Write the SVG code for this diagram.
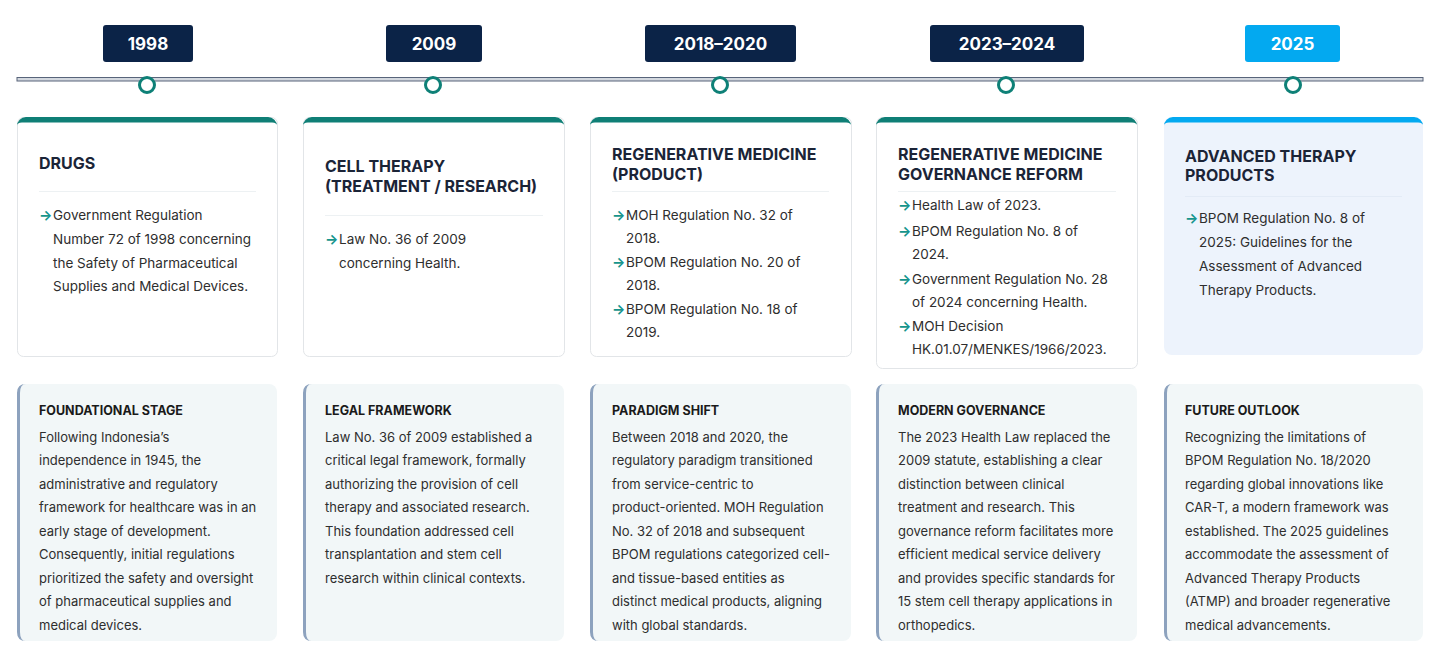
<svg xmlns="http://www.w3.org/2000/svg" width="1438" height="650" viewBox="0 0 1438 650">
<style>
.yr{font-family:Inter,"Liberation Sans",sans-serif;font-weight:700;font-size:17px;fill:#fff;text-anchor:middle}
.ybox{fill:#0B2347}
.dot{fill:#fff;stroke:#0E8077;stroke-width:3}
.card{fill:#fff;stroke:#E2E5E8;stroke-width:1}
.bar{fill:#0F7F76}
.ttl{font-family:Inter,"Liberation Sans",sans-serif;font-weight:700;font-size:16px;fill:#1B2437}
.div{stroke:#EDF1F3;stroke-width:1}
.txt{font-family:Inter,"Liberation Sans",sans-serif;font-size:13.5px;fill:#2e2e2e}
.arr{font-family:Inter,"DejaVu Sans",sans-serif;font-size:14px;font-weight:700;fill:#16958C}
.bcard{fill:#F2F7F8}
.lb{fill:#8DA2BE}
.bt{font-family:Inter,"Liberation Sans",sans-serif;font-weight:700;font-size:12.5px;fill:#1a1a1a}
.bx{font-family:Inter,"Liberation Sans",sans-serif;font-size:13px;fill:#2e2e2e}
</style>
<rect width="1438" height="650" fill="#fff"/>
<g id="timeline">
<rect x="17" y="77.5" width="1406" height="3.5" fill="#D3D8DF" stroke="#58647A" stroke-width="1"/>
</g>
<g id="connectors">
<circle class="dot" cx="147" cy="85" r="7.5"/>
<circle class="dot" cx="433" cy="85" r="7.5"/>
<circle class="dot" cx="720" cy="85" r="7.5"/>
<circle class="dot" cx="1006" cy="85" r="7.5"/>
<circle class="dot" cx="1293" cy="85" r="7.5"/>
</g>
<g id="year-1998"><rect class="ybox" x="103" y="25" width="90" height="37" rx="3"/><text class="yr" x="148" y="50">1998</text></g>
<g id="year-2009"><rect class="ybox" x="386" y="25" width="96" height="37" rx="3"/><text class="yr" x="434" y="50">2009</text></g>
<g id="year-2018"><rect class="ybox" x="645" y="25" width="151" height="37" rx="3"/><text class="yr" x="720.5" y="50">2018–2020</text></g>
<g id="year-2023"><rect class="ybox" x="930" y="25" width="154" height="37" rx="3"/><text class="yr" x="1007" y="50">2023–2024</text></g>
<g id="year-2025"><rect x="1245" y="25" width="95" height="37" rx="3" fill="#03A9F0"/><text class="yr" x="1292.5" y="50">2025</text></g>

<g id="card-drugs">
<rect class="card" x="17.5" y="117.5" width="260" height="239" rx="6"/>
<path class="bar" d="M17,126 A9,9 0 0 1 26,117 H268 A9,9 0 0 1 277,126 Q277,122.5 272,122.5 H22 Q17,122.5 17,126 Z"/>
<text class="ttl" x="39" y="169">DRUGS</text>
<line class="div" x1="39" y1="191.5" x2="256" y2="191.5"/>
<text class="arr" x="39" y="220">→</text>
<text class="txt" x="53" y="220">Government Regulation</text>
<text class="txt" x="53" y="244">Number 72 of 1998 concerning</text>
<text class="txt" x="53" y="268">the Safety of Pharmaceutical</text>
<text class="txt" x="53" y="291">Supplies and Medical Devices.</text>
</g>

<g id="card-cell">
<rect class="card" x="303.5" y="117.5" width="261" height="239" rx="6"/>
<path class="bar" d="M303,126 A9,9 0 0 1 312,117 H555 A9,9 0 0 1 564,126 Q564,122.5 559,122.5 H308 Q303,122.5 303,126 Z"/>
<text class="ttl" x="325" y="172">CELL THERAPY</text>
<text class="ttl" x="325" y="192">(TREATMENT / RESEARCH)</text>
<line class="div" x1="325" y1="215.5" x2="543" y2="215.5"/>
<text class="arr" x="325" y="244">→</text>
<text class="txt" x="339" y="244">Law No. 36 of 2009</text>
<text class="txt" x="339" y="268">concerning Health.</text>
</g>

<g id="card-regen">
<rect class="card" x="590.5" y="117.5" width="261" height="239" rx="6"/>
<path class="bar" d="M590,126 A9,9 0 0 1 599,117 H842 A9,9 0 0 1 851,126 Q851,122.5 846,122.5 H595 Q590,122.5 590,126 Z"/>
<text class="ttl" x="612" y="160">REGENERATIVE MEDICINE</text>
<text class="ttl" x="612" y="180">(PRODUCT)</text>
<line class="div" x1="612" y1="191.5" x2="829" y2="191.5"/>
<text class="arr" x="612" y="220">→</text>
<text class="txt" x="626" y="220">MOH Regulation No. 32 of</text>
<text class="txt" x="626" y="243">2018.</text>
<text class="arr" x="612" y="267">→</text>
<text class="txt" x="626" y="267">BPOM Regulation No. 20 of</text>
<text class="txt" x="626" y="290">2018.</text>
<text class="arr" x="612" y="314">→</text>
<text class="txt" x="626" y="314">BPOM Regulation No. 18 of</text>
<text class="txt" x="626" y="337">2019.</text>
</g>

<g id="card-gov">
<rect class="card" x="876.5" y="117.5" width="261" height="251" rx="6"/>
<path class="bar" d="M876,126 A9,9 0 0 1 885,117 H1128 A9,9 0 0 1 1137,126 Q1137,122.5 1132,122.5 H881 Q876,122.5 876,126 Z"/>
<text class="ttl" x="898" y="160">REGENERATIVE MEDICINE</text>
<text class="ttl" x="898" y="180">GOVERNANCE REFORM</text>
<line class="div" x1="898" y1="191.5" x2="1116" y2="191.5"/>
<text class="arr" x="898" y="210">→</text>
<text class="txt" x="912" y="210">Health Law of 2023.</text>
<text class="arr" x="898" y="236">→</text>
<text class="txt" x="912" y="236">BPOM Regulation No. 8 of</text>
<text class="txt" x="912" y="259">2024.</text>
<text class="arr" x="898" y="284">→</text>
<text class="txt" x="912" y="284">Government Regulation No. 28</text>
<text class="txt" x="912" y="307">of 2024 concerning Health.</text>
<text class="arr" x="898" y="331">→</text>
<text class="txt" x="912" y="331">MOH Decision</text>
<text class="txt" x="912" y="354">HK.01.07/MENKES/1966/2023.</text>
</g>

<g id="card-atp">
<rect x="1164" y="117" width="259" height="238" rx="8" fill="#EDF3FC"/>
<path d="M1164,126 A9,9 0 0 1 1173,117 H1414 A9,9 0 0 1 1423,126 Q1423,122.5 1418,122.5 H1169 Q1164,122.5 1164,126 Z" fill="#03A9F0"/>
<text class="ttl" x="1185" y="162">ADVANCED THERAPY</text>
<text class="ttl" x="1185" y="181">PRODUCTS</text>
<line x1="1185" y1="196.5" x2="1402" y2="196.5" stroke="#E3EBF6" stroke-width="1"/>
<text class="arr" x="1185" y="223">→</text>
<text class="txt" x="1199" y="223">BPOM Regulation No. 8 of</text>
<text class="txt" x="1199" y="247">2025: Guidelines for the</text>
<text class="txt" x="1199" y="271">Assessment of Advanced</text>
<text class="txt" x="1199" y="295">Therapy Products.</text>
</g>

<g id="note-foundational">
<rect class="bcard" x="17" y="384" width="260" height="257" rx="8"/>
<path class="lb" d="M26,384 Q17,384 17,393 V632 Q17,641 26,641 Q20,641 20,632 V393 Q20,384 26,384 Z"/>
<text class="bt" x="39" y="415">FOUNDATIONAL STAGE</text>
<text class="bx" x="39" y="442">Following Indonesia’s</text>
<text class="bx" x="39" y="465">independence in 1945, the</text>
<text class="bx" x="39" y="489">administrative and regulatory</text>
<text class="bx" x="39" y="512">framework for healthcare was in an</text>
<text class="bx" x="39" y="536">early stage of development.</text>
<text class="bx" x="39" y="559">Consequently, initial regulations</text>
<text class="bx" x="39" y="583">prioritized the safety and oversight</text>
<text class="bx" x="39" y="606">of pharmaceutical supplies and</text>
<text class="bx" x="39" y="630">medical devices.</text>
</g>

<g id="note-legal">
<rect class="bcard" x="303" y="384" width="261" height="257" rx="8"/>
<path class="lb" d="M312,384 Q303,384 303,393 V632 Q303,641 312,641 Q306,641 306,632 V393 Q306,384 312,384 Z"/>
<text class="bt" x="325" y="415">LEGAL FRAMEWORK</text>
<text class="bx" x="325" y="442">Law No. 36 of 2009 established a</text>
<text class="bx" x="325" y="465">critical legal framework, formally</text>
<text class="bx" x="325" y="489">authorizing the provision of cell</text>
<text class="bx" x="325" y="512">therapy and associated research.</text>
<text class="bx" x="325" y="536">This foundation addressed cell</text>
<text class="bx" x="325" y="559">transplantation and stem cell</text>
<text class="bx" x="325" y="583">research within clinical contexts.</text>
</g>

<g id="note-paradigm">
<rect class="bcard" x="590" y="384" width="261" height="257" rx="8"/>
<path class="lb" d="M599,384 Q590,384 590,393 V632 Q590,641 599,641 Q593,641 593,632 V393 Q593,384 599,384 Z"/>
<text class="bt" x="612" y="415">PARADIGM SHIFT</text>
<text class="bx" x="612" y="442">Between 2018 and 2020, the</text>
<text class="bx" x="612" y="465">regulatory paradigm transitioned</text>
<text class="bx" x="612" y="489">from service-centric to</text>
<text class="bx" x="612" y="512">product-oriented. MOH Regulation</text>
<text class="bx" x="612" y="536">No. 32 of 2018 and subsequent</text>
<text class="bx" x="612" y="559">BPOM regulations categorized cell-</text>
<text class="bx" x="612" y="583">and tissue-based entities as</text>
<text class="bx" x="612" y="606">distinct medical products, aligning</text>
<text class="bx" x="612" y="630">with global standards.</text>
</g>

<g id="note-modern">
<rect class="bcard" x="876" y="384" width="261" height="257" rx="8"/>
<path class="lb" d="M885,384 Q876,384 876,393 V632 Q876,641 885,641 Q879,641 879,632 V393 Q879,384 885,384 Z"/>
<text class="bt" x="898" y="415">MODERN GOVERNANCE</text>
<text class="bx" x="898" y="442">The 2023 Health Law replaced the</text>
<text class="bx" x="898" y="465">2009 statute, establishing a clear</text>
<text class="bx" x="898" y="489">distinction between clinical</text>
<text class="bx" x="898" y="512">treatment and research. This</text>
<text class="bx" x="898" y="536">governance reform facilitates more</text>
<text class="bx" x="898" y="559">efficient medical service delivery</text>
<text class="bx" x="898" y="583">and provides specific standards for</text>
<text class="bx" x="898" y="606">15 stem cell therapy applications in</text>
<text class="bx" x="898" y="630">orthopedics.</text>
</g>

<g id="note-future">
<rect class="bcard" x="1164" y="384" width="259" height="257" rx="8"/>
<path class="lb" d="M1173,384 Q1164,384 1164,393 V632 Q1164,641 1173,641 Q1167,641 1167,632 V393 Q1167,384 1173,384 Z"/>
<text class="bt" x="1185" y="415">FUTURE OUTLOOK</text>
<text class="bx" x="1185" y="442">Recognizing the limitations of</text>
<text class="bx" x="1185" y="465">BPOM Regulation No. 18/2020</text>
<text class="bx" x="1185" y="489">regarding global innovations like</text>
<text class="bx" x="1185" y="512">CAR-T, a modern framework was</text>
<text class="bx" x="1185" y="536">established. The 2025 guidelines</text>
<text class="bx" x="1185" y="559">accommodate the assessment of</text>
<text class="bx" x="1185" y="583">Advanced Therapy Products</text>
<text class="bx" x="1185" y="606">(ATMP) and broader regenerative</text>
<text class="bx" x="1185" y="630">medical advancements.</text>
</g>
</svg>
